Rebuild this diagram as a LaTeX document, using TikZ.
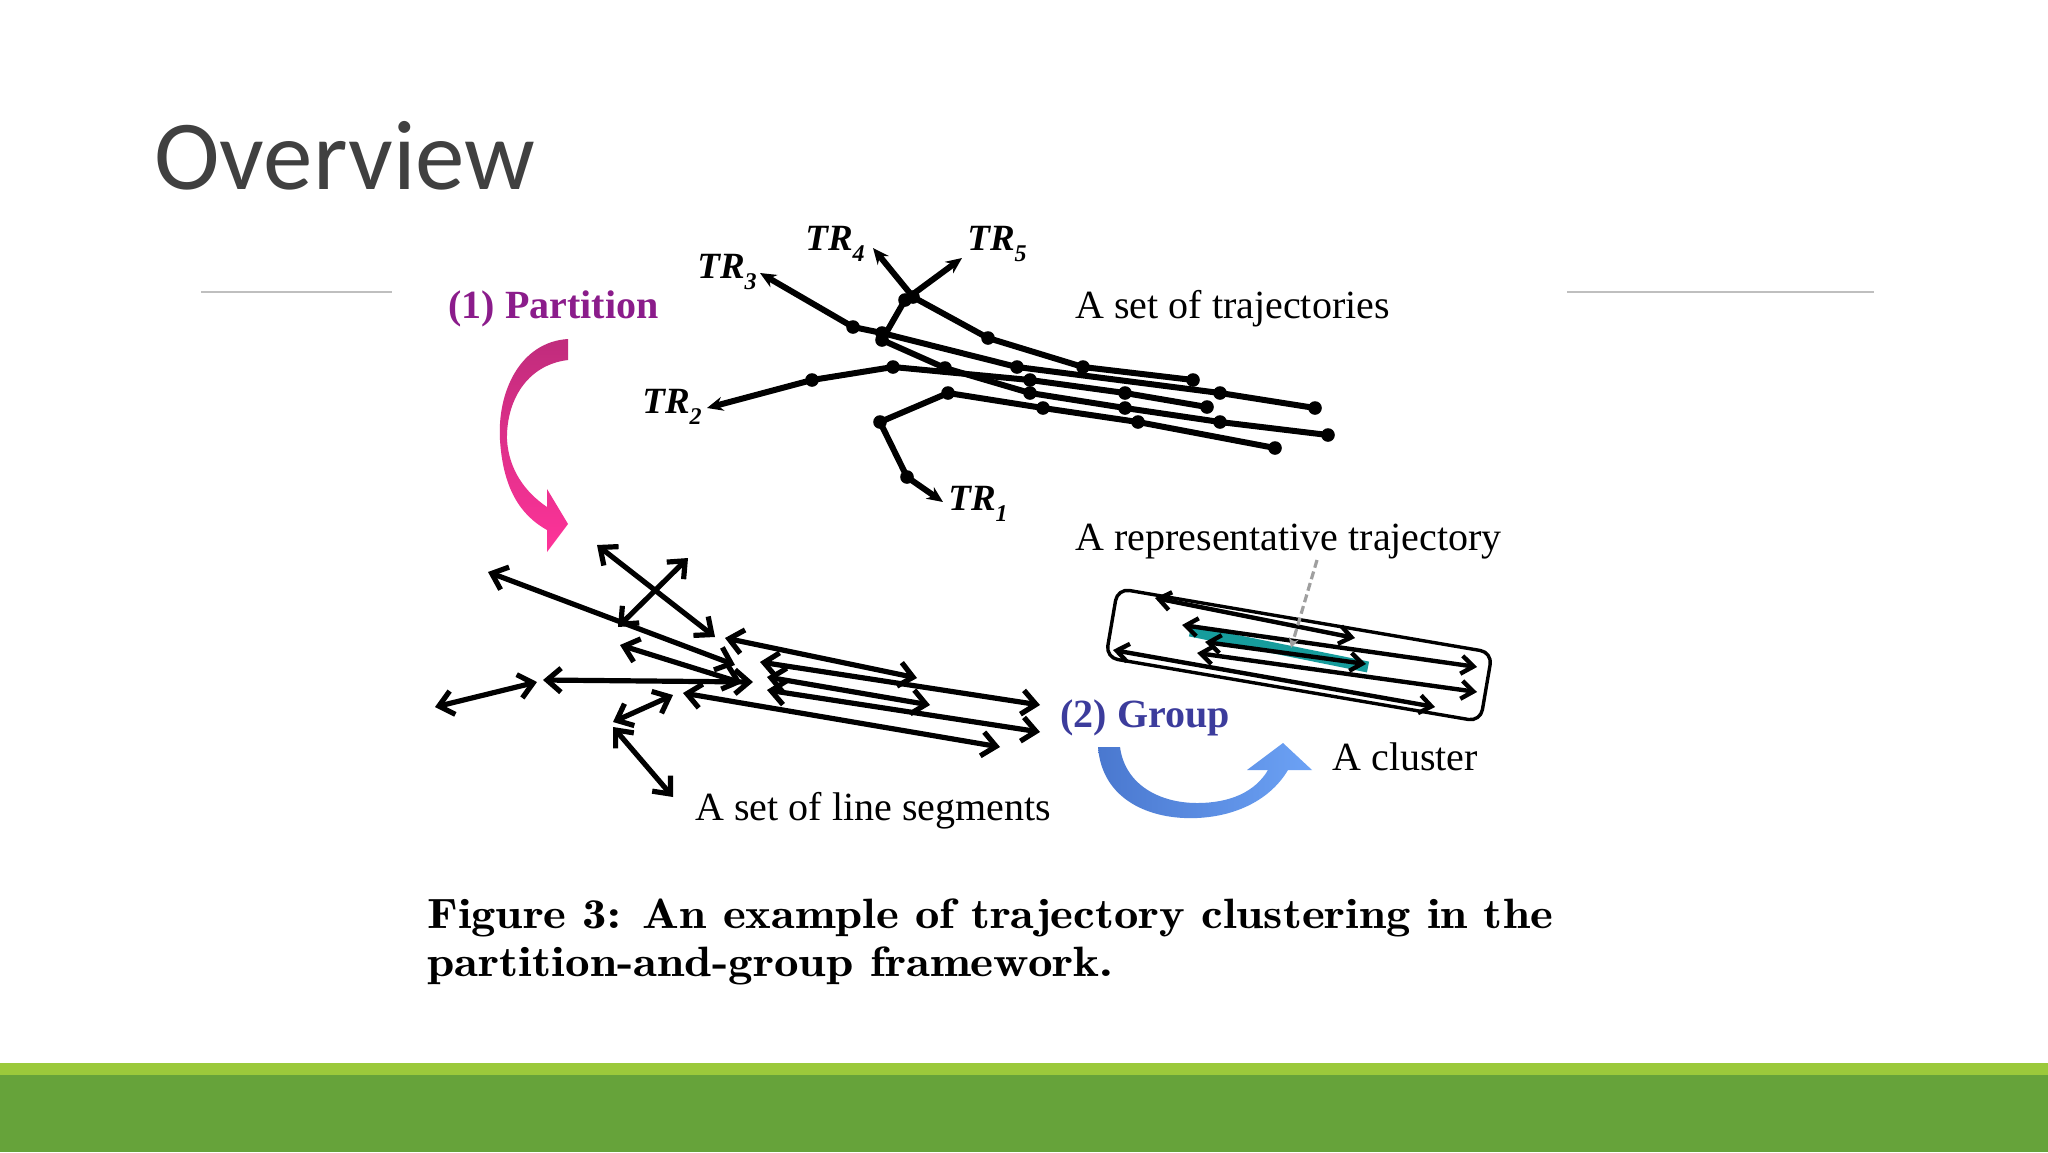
\documentclass[tikz,border=0pt]{standalone}
\usepackage{fontspec}
\setmainfont{Liberation Serif}
\newfontfamily\titlefont{Carlito}
\usetikzlibrary{arrows.meta}
\definecolor{titlegray}{HTML}{404040}
\definecolor{rulegray}{HTML}{BFBFBF}
\definecolor{lightgreen}{HTML}{9BC93B}
\definecolor{darkgreen}{HTML}{66A33A}
\definecolor{partpurple}{HTML}{8B1C8B}
\definecolor{groupblue}{HTML}{3C3C9C}
\definecolor{pinkA}{HTML}{C02C7C}
\definecolor{pinkB}{HTML}{FF3399}
\definecolor{blueA}{HTML}{4A78CF}
\definecolor{blueB}{HTML}{6CA2F5}
\definecolor{repteal}{HTML}{169C9C}
\newcommand\trsub[1]{\raisebox{-0.32em}{\fontsize{12}{12}\selectfont #1}}
\begin{document}
\begin{tikzpicture}[x=0.5pt,y=-0.5pt,
  traj/.style={line width=3pt,line join=round},
  trend/.style={-{Stealth[length=8pt,width=7pt]}},
  seg/.style={line width=2.6pt,{Straight Barb[length=7pt,width=12pt]}-{Straight Barb[length=7pt,width=12pt]}},
  clarr/.style={line width=2.2pt,{Straight Barb[length=6pt,width=9pt]}-{Straight Barb[length=6pt,width=9pt]}},
  figtxt/.style={font=\fontsize{20}{24}\selectfont,inner sep=0pt,anchor=base west},
  trlab/.style={font=\fontsize{18.5}{20}\selectfont\bfseries\itshape,inner sep=0pt,anchor=base west},
  captxt/.style={font=\fontfamily{lmr}\fontsize{21.2}{25}\selectfont\bfseries,inner sep=0pt,anchor=base west}
]
\useasboundingbox (0,0) rectangle (2048,1152);
\fill[white] (0,0) rectangle (2048,1152);
% footer band
\fill[lightgreen] (0,1063) rectangle (2048,1075);
\fill[darkgreen] (0,1075) rectangle (2048,1152);
% title and rules
\node[font=\titlefont\fontsize{49.5}{59}\selectfont,text=titlegray,anchor=base west,inner sep=0pt] (title) at (154,189) {Overview};
\draw[rulegray,line width=1pt] (201,292) -- (392,292);
\draw[rulegray,line width=1pt] (1567,292) -- (1874,292);

% ---------- trajectories ----------
\coordinate (t1a) at (943,502);
\coordinate (t1b) at (907,477);
\coordinate (t1c) at (880,422);
\coordinate (t1d) at (948,393);
\coordinate (t1e) at (1043,408);
\coordinate (t1f) at (1138,422);
\coordinate (t1g) at (1275,448);
\coordinate (t2a) at (707,408);
\coordinate (t2b) at (812,380);
\coordinate (t2c) at (893,367);
\coordinate (t2d) at (1030,380);
\coordinate (t2e) at (1125,393);
\coordinate (t2f) at (1207,407);
\coordinate (t3a) at (760,273);
\coordinate (t3b) at (853,327);
\coordinate (t3c) at (882,333);
\coordinate (t3d) at (1017,367);
\coordinate (t3e) at (1220,393);
\coordinate (t3f) at (1315,408);
\coordinate (t4a) at (873,248);
\coordinate (t4b) at (913,297);
\coordinate (t4c) at (988,338);
\coordinate (t4d) at (1083,367);
\coordinate (t4e) at (1193,380);
\coordinate (t5a) at (962,258);
\coordinate (t5b) at (905,300);
\coordinate (t5c) at (882,340);
\coordinate (t5d) at (945,368);
\coordinate (t5e) at (1030,393);
\coordinate (t5f) at (1125,408);
\coordinate (t5g) at (1220,422);
\coordinate (t5h) at (1328,435);

\draw[traj,trend] (t1g) -- (t1f) -- (t1e) -- (t1d) -- (t1c) -- (t1b) -- (t1a);
\draw[traj,trend] (t2f) -- (t2e) -- (t2d) -- (t2c) -- (t2b) -- (t2a);
\draw[traj,trend] (t3f) -- (t3e) -- (t3d) -- (t3c) -- (t3b) -- (t3a);
\draw[traj,trend] (t4e) -- (t4d) -- (t4c) -- (t4b) -- (t4a);
\draw[traj,trend] (t5h) -- (t5g) -- (t5f) -- (t5e) -- (t5d) -- (t5c) -- (t5b) -- (t5a);
\foreach \p in {t1b,t1c,t1d,t1e,t1f,t1g,t2b,t2c,t2d,t2e,t2f,t3b,t3c,t3d,t3e,t3f,t4b,t4c,t4d,t4e,t5b,t5c,t5d,t5e,t5f,t5g,t5h}
  \fill (\p) circle[radius=3.4pt];

\node[trlab] (lTR1) at (948,510) {TR\trsub{1}};
\node[trlab] (lTR2) at (642,413) {TR\trsub{2}};
\node[trlab] (lTR3) at (697,278) {TR\trsub{3}};
\node[trlab] (lTR4) at (805,250) {TR\trsub{4}};
\node[trlab] (lTR5) at (967,250) {TR\trsub{5}};

\node[figtxt] (settraj) at (1075,318) {A set of trajectories};
\node[figtxt,text=partpurple,font=\fontsize{20}{24}\selectfont\bfseries] (partition) at (448,318) {(1) Partition};

% pink curved arrow
\shade[top color=pinkA,bottom color=pinkB]
  (568,339) .. controls (520,342) and (497,392) .. (500,440)
  .. controls (503,488) and (520,515) .. (547,530)
  -- (547,552) -- (568,524) -- (547,489) -- (547,507)
  .. controls (525,492) and (509,470) .. (507,440)
  .. controls (506,402) and (526,365) .. (568,360) -- cycle;

% ---------- line segments ----------
\coordinate (sa1) at (488,572);  \coordinate (sa2) at (735,665);
\coordinate (sb1) at (597,545);  \coordinate (sb2) at (715,637);
\coordinate (sc1) at (688,558);  \coordinate (sc2) at (618,627);
\coordinate (sd1) at (620,645);  \coordinate (sd2) at (742,683);
\coordinate (se1) at (543,680);  \coordinate (se2) at (753,682);
\coordinate (sf1) at (435,707);  \coordinate (sf2) at (537,682);
\coordinate (sg1) at (613,722);  \coordinate (sg2) at (673,695);
\coordinate (sh1) at (613,727);  \coordinate (sh2) at (673,797);
\coordinate (si1) at (683,693);  \coordinate (si2) at (1000,747);
\coordinate (sj1) at (725,638);  \coordinate (sj2) at (917,678);
\coordinate (sk1) at (760,662);  \coordinate (sk2) at (1040,705);
\coordinate (sl1) at (767,677);  \coordinate (sl2) at (930,705);
\coordinate (sm1) at (767,690);  \coordinate (sm2) at (1040,732);
\foreach \s in {sa,sb,sc,sd,se,sf,sg,sh,si,sj,sk,sl,sm}
  \draw[seg] (\s1) -- (\s2);

\node[figtxt] (setseg) at (695,820) {A set of line segments};

% ---------- cluster ----------
\node[draw,line width=1.7pt,rounded corners=6pt,minimum width=190pt,minimum height=35pt,rotate=-9.7,inner sep=0pt] (clbox) at (1299,655) {};
\coordinate (c1a) at (1155,598); \coordinate (c1b) at (1355,638);
\coordinate (c2a) at (1182,625); \coordinate (c2b) at (1477,667);
\coordinate (c3a) at (1197,653); \coordinate (c3b) at (1477,692);
\coordinate (c4a) at (1113,650); \coordinate (c4b) at (1435,707);
\coordinate (c5a) at (1205,642); \coordinate (c5b) at (1366,664);
\coordinate (rpa) at (1190,631); \coordinate (rpb) at (1368,667);
\draw[repteal,line width=5.5pt] (rpa) -- (rpb);
\foreach \c in {c1,c2,c3,c4,c5}
  \draw[clarr] (\c a) -- (\c b);

\node[figtxt] (reptxt) at (1075,550) {A representative trajectory};
\coordinate (reptip) at (1291,648);
\draw[gray!75,line width=1.6pt,dash pattern=on 4pt off 2pt,-{Stealth[length=5pt,width=5pt]}] (1317,560) -- (reptip);

\node[figtxt,text=groupblue,font=\fontsize{20}{24}\selectfont\bfseries] (group) at (1060,727) {(2) Group};
\node[figtxt] (cluster) at (1332,770) {A cluster};

% blue curved arrow
\shade[left color=blueA,right color=blueB]
  (1098,747) .. controls (1102,800) and (1150,820) .. (1197,818)
  .. controls (1240,816) and (1272,797) .. (1288,770)
  -- (1312,770) -- (1283,743) -- (1247,770) -- (1268,770)
  .. controls (1255,792) and (1230,803) .. (1197,803)
  .. controls (1160,803) and (1125,785) .. (1120,747) -- cycle;

% ---------- caption ----------
\node[captxt] (cap1) at (427,928) {\scalebox{1.15}[1]{Figure 3:\hspace{0.45em}An example of trajectory clustering in the}};
\node[captxt] (cap2) at (427,976) {\scalebox{1.16}[1]{partition-and-group framework.}};
\end{tikzpicture}
\end{document}
